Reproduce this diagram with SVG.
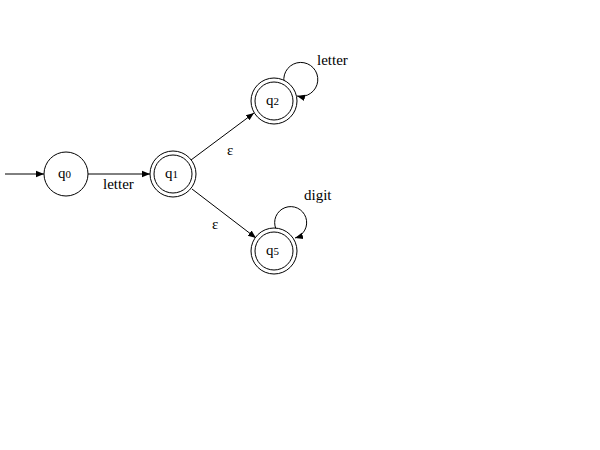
<svg xmlns="http://www.w3.org/2000/svg" width="600" height="450" viewBox="0 0 600 450">
<style>
.st{fill:#fff;stroke:#000;stroke-width:1}
.ln{fill:none;stroke:#000;stroke-width:1}
text{font-family:"Liberation Serif",serif;font-size:15px;fill:#000}
.sub{font-size:11px}
</style>
<defs>
<marker id="ah" viewBox="0 0 10 10" refX="10" refY="5" markerWidth="8" markerHeight="8" markerUnits="userSpaceOnUse" orient="auto">
<path d="M0,1 L10,5 L0,9 Z" fill="#000"/>
</marker>
</defs>
<rect width="600" height="450" fill="#fff"/>
<g id="connectors">
<line class="ln" x1="5" y1="174" x2="44" y2="174" marker-end="url(#ah)"/>
<line class="ln" x1="88" y1="174" x2="150" y2="174" marker-end="url(#ah)"/>
<text x="103" y="189">letter</text>
<line class="ln" x1="191" y1="160" x2="254" y2="113" marker-end="url(#ah)"/>
<text x="227" y="155">ε</text>
<line class="ln" x1="192" y1="189" x2="256" y2="238" marker-end="url(#ah)"/>
<text x="212" y="229">ε</text>
<path class="ln" d="M284,82 A17,17 0 1 1 297,96" marker-end="url(#ah)"/>
<text x="317" y="65">letter</text>
<path class="ln" d="M276,229 A16,16 0 1 1 295,238" marker-end="url(#ah)"/>
<text x="304" y="200">digit</text>
</g>
<g id="q0">
<circle class="st" cx="66" cy="174" r="22"/>
<text x="58" y="178">q<tspan class="sub">0</tspan></text>
</g>
<g id="q1">
<circle class="st" cx="173" cy="174" r="23"/>
<circle class="st" cx="173" cy="174" r="19"/>
<text x="165" y="178">q<tspan class="sub">1</tspan></text>
</g>
<g id="q2">
<circle class="st" cx="274" cy="101" r="23"/>
<circle class="st" cx="274" cy="101" r="19"/>
<text x="266" y="105">q<tspan class="sub">2</tspan></text>
</g>
<g id="q5">
<circle class="st" cx="274" cy="251" r="23"/>
<circle class="st" cx="274" cy="251" r="19"/>
<text x="266" y="255">q<tspan class="sub">5</tspan></text>
</g>
</svg>
